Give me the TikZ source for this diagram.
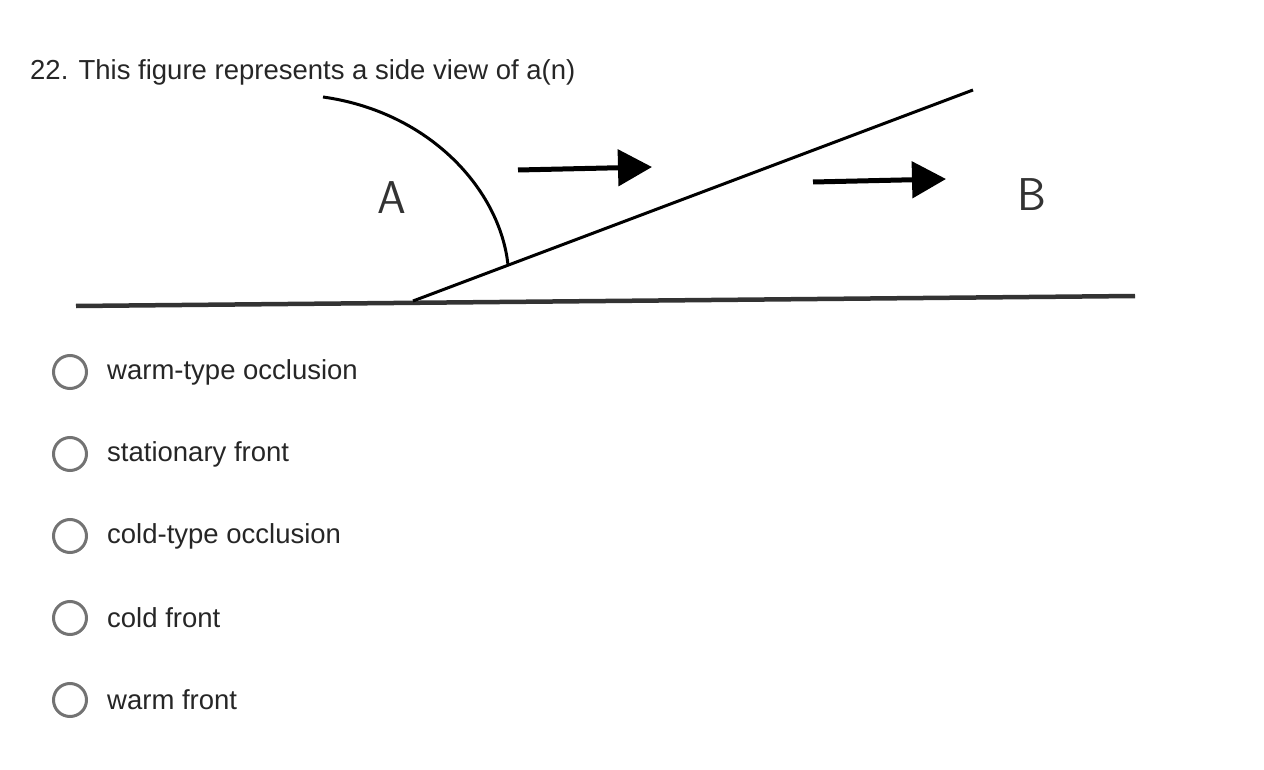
\documentclass[tikz,border=0pt]{standalone}
\usepackage{fontspec}
\setmainfont{Liberation Sans}
\usetikzlibrary{arrows.meta}
\begin{document}
\begin{tikzpicture}[x=1pt,y=-1pt,
  radio/.style={draw=black!55,line width=3pt,circle,minimum size=33pt,inner sep=0pt},
  opt/.style={anchor=west,font=\fontsize{27.5}{32}\selectfont,text=black!85,inner sep=0pt},
  big/.style={font=\fontsize{46}{50}\selectfont\sffamily,text=black!80},
  wind/.style={line width=5pt,-{Triangle[length=34pt,width=36pt]}}]
\useasboundingbox (0,0) rectangle (1264,770);
\node[anchor=base west,font=\fontsize{27.5}{32}\selectfont,text=black!85,inner sep=0pt] (t) at (30,80) {22. This figure represents a side view of a(n)};
\coordinate (g1) at (76,306); \coordinate (g2) at (1135,296);
\draw[line width=4.5pt,black!80] (g1) -- (g2);
\coordinate (f1) at (413,301); \coordinate (f2) at (973,90);
\draw[line width=3pt] (f1) -- (f2);
\coordinate (a1) at (323,97); \coordinate (a2) at (508,265);
\draw[line width=3pt] (a1) .. controls (430,112) and (500,190) .. (a2);
\node[big] (A) at (392,198) {A};
\node[big] (B) at (1032,195) {B};
\coordinate (w1) at (518,170); \coordinate (w2) at (652,167);
\draw[wind] (w1) -- (w2);
\coordinate (w3) at (813,182); \coordinate (w4) at (946,179);
\draw[wind] (w3) -- (w4);
\foreach \y/\t/\n in {372/warm-type occlusion/1,454/stationary front/2,536/cold-type occlusion/3,618/cold front/4,700/warm front/5}{
  \node[radio] (r\n) at (70,\y) {};
  \node[opt] (o\n) at (107,\y) {\t};
}
\end{tikzpicture}
\end{document}
